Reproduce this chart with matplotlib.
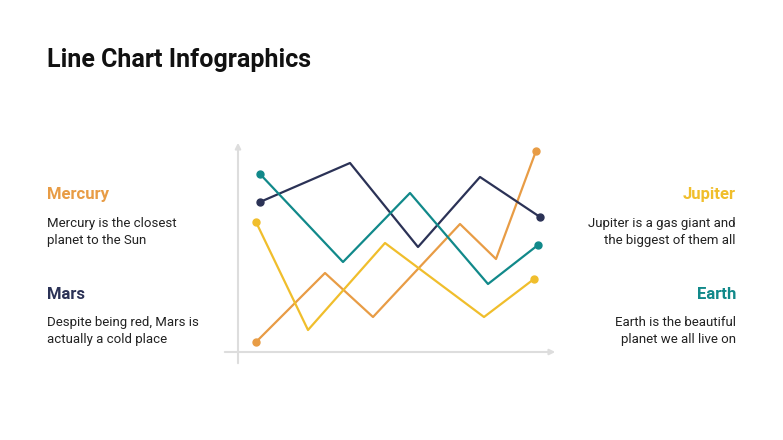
import matplotlib
matplotlib.use("Agg")
import matplotlib.pyplot as plt

# data (x position, value) per series
mercury_x = [256, 325, 373, 460, 496, 536]
mercury_y = [10, 79, 35, 128, 93, 201]
mars_x = [260, 350, 418, 480, 540]
mars_y = [150, 189, 105, 175, 135]
jupiter_x = [256, 308, 385, 484, 534]
jupiter_y = [130, 22, 109, 35, 73]
earth_x = [260, 343, 410, 488, 538]
earth_y = [178, 90, 159, 68, 107]

C_OR, C_YE, C_NA, C_TE = "#E89C45", "#F0BE2C", "#2B3256", "#11898A"
W, H = 783, 440
fig = plt.figure(figsize=(7.83, 4.40), dpi=100)
fig.patch.set_facecolor("white")
x0, x1, ytop, ybot = 200, 580, 120, 380
ax = fig.add_axes([x0/W, 1-ybot/H, (x1-x0)/W, (ybot-ytop)/H])
ax.set_xlim(x0, x1)
ax.set_ylim(352-ybot, 352-ytop)
ax.axis("off")
ax.annotate("", xy=(238, 352-140), xytext=(238, 352-366),
            arrowprops=dict(arrowstyle="-|>", color="#dddddd", lw=1.5, mutation_scale=8))
ax.annotate("", xy=(558, 0), xytext=(222, 0),
            arrowprops=dict(arrowstyle="-|>", color="#dddddd", lw=1.5, mutation_scale=8))
for xs, ys, c in [(mercury_x, mercury_y, C_OR), (jupiter_x, jupiter_y, C_YE),
                  (mars_x, mars_y, C_NA), (earth_x, earth_y, C_TE)]:
    ax.plot(xs, ys, color=c, lw=1.6)
    ax.plot([xs[0], xs[-1]], [ys[0], ys[-1]], "o", color=c, ms=5)

def t(x, y, s, **kw):
    fig.text(x/W, 1-y/H, s, va="center", **kw)

cond = ["Roboto", "DejaVu Sans"]
body = ["Roboto", "DejaVu Sans"]
t(47, 60, "Line Chart Infographics", fontsize=18, fontweight="bold", family=cond, color="#111111")
t(47, 194, "Mercury", fontsize=12, fontweight="bold", family=cond, color=C_OR)
fig.text(47/W, 1-217/H, "Mercury is the closest\nplanet to the Sun", fontsize=9.5,
         family=body, color="#222222", va="top", linespacing=1.4)
t(47, 294, "Mars", fontsize=12, fontweight="bold", family=cond, color=C_NA)
fig.text(47/W, 1-316/H, "Despite being red, Mars is\nactually a cold place", fontsize=9.5,
         family=body, color="#222222", va="top", linespacing=1.4)
t(736, 194, "Jupiter", fontsize=12, fontweight="bold", family=cond, color=C_YE, ha="right")
fig.text(736/W, 1-217/H, "Jupiter is a gas giant and\nthe biggest of them all", fontsize=9.5,
         family=body, color="#222222", va="top", ha="right", multialignment="right", linespacing=1.4)
t(736, 294, "Earth", fontsize=12, fontweight="bold", family=cond, color=C_TE, ha="right")
fig.text(736/W, 1-316/H, "Earth is the beautiful\nplanet we all live on", fontsize=9.5,
         family=body, color="#222222", va="top", ha="right", multialignment="right", linespacing=1.4)
fig.savefig("out.png", dpi=100)
